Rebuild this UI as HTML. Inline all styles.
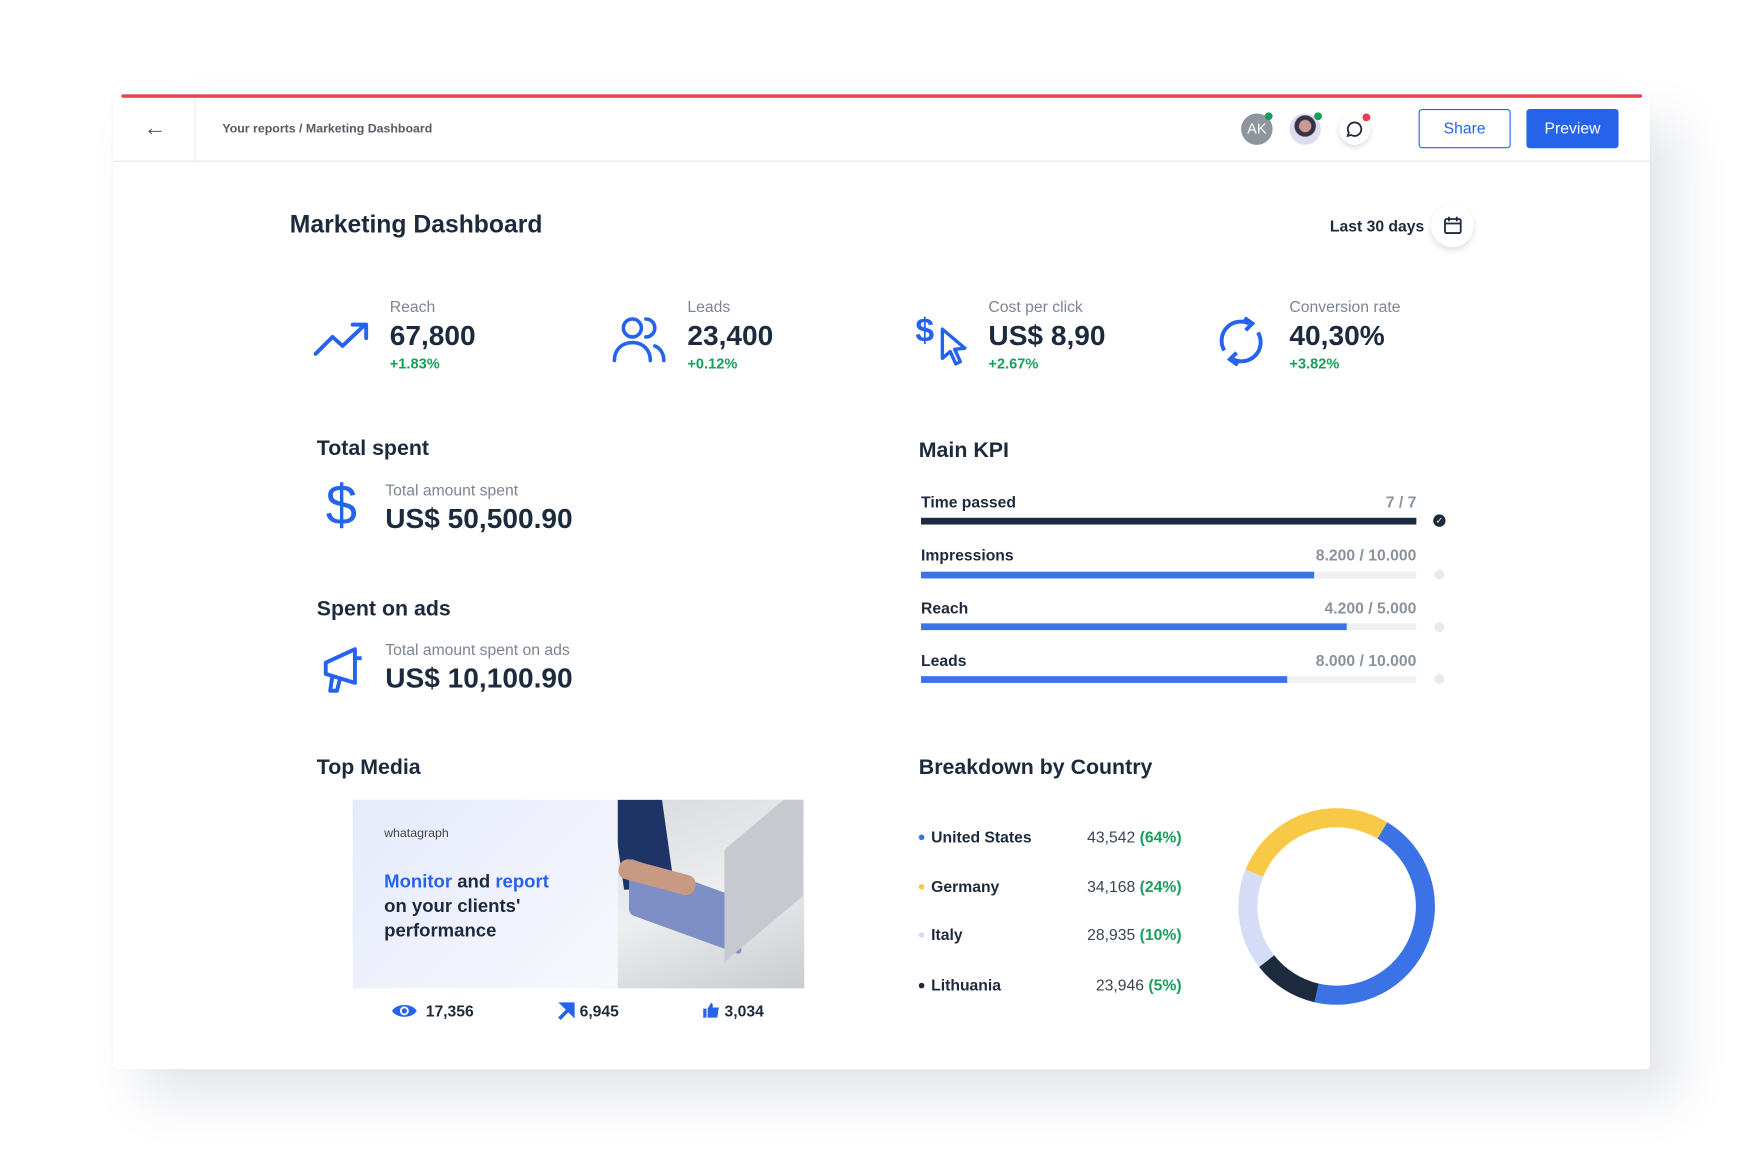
<!DOCTYPE html>
<html><head><meta charset="utf-8"><style>
html,body{margin:0;padding:0;background:#fff;width:1760px;height:1165px;overflow:hidden;font-family:"Liberation Sans",Arial,sans-serif}
#w{position:absolute;left:0;top:0;width:1570px;height:1040px;transform:scale(1.1232);transform-origin:0 0}
.a{position:absolute;white-space:nowrap}
.card{position:absolute;left:101px;top:85px;width:1368px;height:867px;background:#fff;box-shadow:25px 25px 45px rgba(40,60,100,.13),0 0 6px rgba(0,0,0,.04);border-radius:4px}
.dk{color:#1c2a3d}.gr{color:#7c8591}.gn{color:#16a05a}.bl{color:#2563eb}
.h{font-size:20px;font-weight:bold;color:#1c2a3d}
.lab{font-size:14px;color:#7c8591}
.big{font-size:25px;font-weight:bold;color:#1c2a3d}
.pct{font-size:13px;font-weight:bold;color:#16a05a}
.trk{position:absolute;left:820px;width:441px;height:6px;background:#eef0f2}
.fil{position:absolute;left:0;top:0;height:6px;background:#3b73e6}
.dot{position:absolute;width:9px;height:9px;border-radius:50%;background:#e8eaec}
.kl{font-size:14px;font-weight:bold;color:#1c2a3d}
.kv{font-size:14px;font-weight:bold;color:#8a929c;text-align:right}
.cn{font-size:14px;font-weight:bold;color:#1c2a3d}
.cv{font-size:14px;color:#3a4452}
</style></head><body><div id="w">
<div class="card"></div>
<div class="a" style="left:108px;top:84px;width:1354px;height:3px;background:#ef3b4e;border-radius:2px"></div>
<div class="a" style="left:101px;top:143px;width:1368px;height:1px;background:#e6e8eb"></div>
<div class="a" style="left:173px;top:88px;width:1px;height:56px;background:#e6e8eb"></div>
<div class="a" style="left:128px;top:103px;font-size:20px;color:#555">&#8592;</div>
<div class="a" style="left:198px;top:109px;font-size:11px;color:#555b63;font-weight:bold">Your reports / Marketing Dashboard</div>
<div class="a" style="left:1105px;top:101px;width:28px;height:28px;border-radius:50%;background:#8f959c;color:#fff;font-size:13px;line-height:28px;text-align:center">AK</div>
<div class="a" style="left:1126px;top:100px;width:7px;height:7px;border-radius:50%;background:#16a05a"></div>
<div class="a" style="left:1148px;top:101px;width:28px;height:28px;border-radius:50%;background:radial-gradient(circle at 50% 40%,#c99 0 5px,#334 6px 9px,#dde 10px)"></div>
<div class="a" style="left:1170px;top:100px;width:7px;height:7px;border-radius:50%;background:#16a05a"></div>
<div class="a" style="left:1192px;top:101px;width:28px;height:28px;border-radius:50%;background:#fff;box-shadow:0 2px 5px rgba(0,0,0,.15)"></div>
<svg class="a" style="left:1198px;top:107px" width="16" height="16" viewBox="0 0 16 16"><path d="M8 2a6 6 0 1 1-3 11.2L2 14l.8-3A6 6 0 0 1 8 2z" fill="none" stroke="#1c2a3d" stroke-width="1.6"/></svg>
<div class="a" style="left:1213px;top:101px;width:7px;height:7px;border-radius:50%;background:#ef3b4e"></div>
<div class="a" style="left:1263px;top:97px;width:80px;height:33px;border:1px solid #2563eb;border-radius:3px;color:#2563eb;font-size:14px;line-height:33px;text-align:center">Share</div>
<div class="a" style="left:1359px;top:97px;width:82px;height:35px;background:#2563eb;border-radius:3px;color:#fff;font-size:14px;line-height:34px;text-align:center">Preview</div>

<div class="a" style="left:258px;top:187px;font-size:22px;font-weight:bold;color:#1c2a3d">Marketing Dashboard</div>
<div class="a" style="left:1184px;top:193px;font-size:14px;font-weight:bold;color:#1c2a3d">Last 30 days</div>
<div class="a" style="left:1274px;top:182px;width:38px;height:38px;border-radius:50%;background:#fff;box-shadow:0 3px 6px rgba(0,0,0,.12)"></div>
<svg class="a" style="left:1285px;top:192px" width="17" height="17" viewBox="0 0 17 17"><rect x="1.5" y="3" width="14" height="12.5" rx="1.5" fill="none" stroke="#1c2a3d" stroke-width="1.6"/><path d="M1.5 7h14M5 1v4M12 1v4" stroke="#1c2a3d" stroke-width="1.6"/></svg>

<svg class="a" style="left:278px;top:284px" width="52" height="36" viewBox="0 0 52 36"><path d="M3 31 L18 16 L27 24 L47 5 M36 5 H48 V17" fill="none" stroke="#2563eb" stroke-width="3.5" stroke-linecap="round" stroke-linejoin="round"/></svg>
<div class="a lab" style="left:347px;top:265px">Reach</div>
<div class="a big" style="left:347px;top:285px">67,800</div>
<div class="a pct" style="left:347px;top:316px">+1.83%</div>
<svg class="a" style="left:543px;top:280px" width="52" height="44" viewBox="0 0 52 44"><circle cx="20" cy="12" r="8" fill="none" stroke="#2563eb" stroke-width="3.2"/><path d="M4 41c0-10 7-16 16-16s16 6 16 16M32 4a8 8 0 0 1 0 16M40 28c5 2 8 7 8 13" fill="none" stroke="#2563eb" stroke-width="3.2" stroke-linecap="round"/></svg>
<div class="a lab" style="left:612px;top:265px">Leads</div>
<div class="a big" style="left:612px;top:285px">23,400</div>
<div class="a pct" style="left:612px;top:316px">+0.12%</div>
<div class="a" style="left:815px;top:278px;font-size:30px;font-weight:bold;color:#2563eb">$</div>
<svg class="a" style="left:835px;top:290px" width="28" height="36" viewBox="0 0 28 36"><path d="M4 3 L24 20 L15 21 L20 32 L16 34 L11 23 L4 29 Z" fill="none" stroke="#2563eb" stroke-width="3" stroke-linejoin="round"/></svg>
<div class="a lab" style="left:880px;top:265px">Cost per click</div>
<div class="a big" style="left:880px;top:285px">US$ 8,90</div>
<div class="a pct" style="left:880px;top:316px">+2.67%</div>
<svg class="a" style="left:1082px;top:282px" width="46" height="44" viewBox="0 0 46 44"><path d="M8 30A17 17 0 0 1 30 6M38 14A17 17 0 0 1 16 38" fill="none" stroke="#2563eb" stroke-width="3.5"/><path d="M26 1l7 5-6 6M20 43l-7-5 6-6" fill="none" stroke="#2563eb" stroke-width="3.5"/></svg>
<div class="a lab" style="left:1148px;top:265px">Conversion rate</div>
<div class="a big" style="left:1148px;top:285px">40,30%</div>
<div class="a pct" style="left:1148px;top:316px">+3.82%</div>

<div class="a h" style="left:282px;top:389px;font-size:19px">Total spent</div>
<div class="a" style="left:290px;top:420px;font-size:50px;color:#2563eb;font-weight:300;line-height:60px">$</div>
<div class="a lab" style="left:343px;top:428px">Total amount spent</div>
<div class="a big" style="left:343px;top:448px">US$ 50,500.90</div>
<div class="a h" style="left:282px;top:532px;font-size:19px">Spent on ads</div>
<svg class="a" style="left:286px;top:574px" width="42" height="44" viewBox="0 0 42 44"><path d="M4 16 L30 4 V34 L4 26 Z M10 27 L8 41 H14 L17 29 M30 12 H36" fill="none" stroke="#2563eb" stroke-width="3.5" stroke-linejoin="round"/></svg>
<div class="a lab" style="left:343px;top:570px">Total amount spent on ads</div>
<div class="a big" style="left:343px;top:590px">US$ 10,100.90</div>

<div class="a h" style="left:818px;top:391px;font-size:19px">Main KPI</div>
<div class="a kl" style="left:820px;top:439px">Time passed</div><div class="a kv" style="left:1161px;width:100px;top:439px">7 / 7</div>
<div class="trk" style="top:461px"><div class="fil" style="width:441px;background:#1c2a3d"></div></div>
<div class="a" style="left:1276px;top:458px;width:11px;height:11px;border-radius:50%;background:#1c2a3d;color:#fff;font-size:8px;line-height:11px;text-align:center">&#10003;</div>
<div class="a kl" style="left:820px;top:486px">Impressions</div><div class="a kv" style="left:1111px;width:150px;top:486px">8.200 / 10.000</div>
<div class="trk" style="top:509px"><div class="fil" style="width:350px"></div></div><div class="dot" style="left:1277px;top:507px"></div>
<div class="a kl" style="left:820px;top:533px">Reach</div><div class="a kv" style="left:1111px;width:150px;top:533px">4.200 / 5.000</div>
<div class="trk" style="top:555px"><div class="fil" style="width:379px"></div></div><div class="dot" style="left:1277px;top:554px"></div>
<div class="a kl" style="left:820px;top:580px">Leads</div><div class="a kv" style="left:1111px;width:150px;top:580px">8.000 / 10.000</div>
<div class="trk" style="top:602px"><div class="fil" style="width:326px"></div></div><div class="dot" style="left:1277px;top:600px"></div>

<div class="a h" style="left:282px;top:673px;font-size:19px">Top Media</div>
<div class="a" style="left:314px;top:712px;width:236px;height:168px;background:linear-gradient(135deg,#e6ebfb,#f7f8fd)"></div>
<div class="a" style="left:342px;top:736px;font-size:11px;color:#444">whatagraph</div>
<div class="a" style="left:342px;top:774px;font-size:16.5px;font-weight:bold;line-height:22px;color:#1c2a3d"><span class="bl">Monitor</span> and <span class="bl">report</span><br>on your clients'<br>performance</div>
<div class="a" style="left:550px;top:712px;width:166px;height:168px;background:linear-gradient(160deg,#d8dadd,#eceeef 50%,#c9ccd0);overflow:hidden">
<div class="a" style="left:0;top:0;width:45px;height:80px;background:#1e3366;transform:skewX(8deg)"></div>
<div class="a" style="left:10px;top:70px;width:100px;height:50px;background:#7d8fc4;transform:skewY(20deg);border-radius:4px"></div>
<div class="a" style="left:95px;top:15px;width:70px;height:100px;background:#c6c9cf;transform:skewY(-40deg)"></div>
<div class="a" style="left:0;top:60px;width:70px;height:18px;background:#c89a83;border-radius:8px;transform:rotate(15deg)"></div>
</div>
<svg class="a" style="left:348px;top:892px" width="24" height="16" viewBox="0 0 24 16"><path d="M1 8C5 1 19 1 23 8C19 15 5 15 1 8Z" fill="#2563eb"/><circle cx="12" cy="8" r="4" fill="#fff"/><circle cx="12" cy="8" r="2.3" fill="#2563eb"/></svg>
<div class="a" style="left:379px;top:892px;font-size:14px;font-weight:bold;color:#1c2a3d">17,356</div>
<svg class="a" style="left:495px;top:891px" width="17" height="17" viewBox="0 0 17 17"><path d="M3 16 L12 7 M6 3 H15 V12 Z" stroke="#2563eb" stroke-width="3.2" fill="#2563eb"/></svg>
<div class="a" style="left:516px;top:892px;font-size:14px;font-weight:bold;color:#1c2a3d">6,945</div>
<svg class="a" style="left:626px;top:892px" width="15" height="15" viewBox="0 0 15 15"><rect x="0" y="6" width="3" height="8" fill="#2563eb"/><path d="M4 6 L7 1 Q9 1 8.5 5 H14 L12.5 14 H4Z" fill="#2563eb"/></svg>
<div class="a" style="left:645px;top:892px;font-size:14px;font-weight:bold;color:#1c2a3d">3,034</div>

<div class="a h" style="left:818px;top:673px;font-size:19px">Breakdown by Country</div>
<div class="a" style="left:818px;top:743px;width:5px;height:5px;border-radius:50%;background:#3b73e6"></div>
<div class="a cn" style="left:829px;top:737px">United States</div><div class="a cv" style="left:940px;width:112px;text-align:right;top:737px">43,542 <b class="gn">(64%)</b></div>
<div class="a" style="left:818px;top:787px;width:5px;height:5px;border-radius:50%;background:#f8c947"></div>
<div class="a cn" style="left:829px;top:781px">Germany</div><div class="a cv" style="left:940px;width:112px;text-align:right;top:781px">34,168 <b class="gn">(24%)</b></div>
<div class="a" style="left:818px;top:830px;width:5px;height:5px;border-radius:50%;background:#d5dcf5"></div>
<div class="a cn" style="left:829px;top:824px">Italy</div><div class="a cv" style="left:940px;width:112px;text-align:right;top:824px">28,935 <b class="gn">(10%)</b></div>
<div class="a" style="left:818px;top:875px;width:5px;height:5px;border-radius:50%;background:#1c2a3d"></div>
<div class="a cn" style="left:829px;top:869px">Lithuania</div><div class="a cv" style="left:940px;width:112px;text-align:right;top:869px">23,946 <b class="gn">(5%)</b></div>
<svg class="a" style="left:0;top:0" width="1560" height="1033">
<g fill="none" stroke-width="17">
<path d="M1230.7 739.3 A79 79 0 0 1 1172.2 884" stroke="#3b73e6"/>
<path d="M1172.2 884 A79 79 0 0 1 1127.7 855.7" stroke="#1c2a3d"/>
<path d="M1127.7 855.7 A79 79 0 0 1 1116.8 777.4" stroke="#d5dcf5"/>
<path d="M1116.8 777.4 A79 79 0 0 1 1230.7 739.3" stroke="#f8c947"/>
</g></svg>
</div></body></html>
